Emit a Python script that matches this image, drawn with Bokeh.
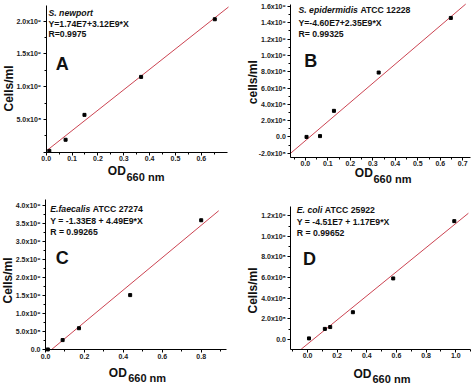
from bokeh.plotting import figure
from bokeh.models import (Range1d, SingleIntervalTicker, CustomJSTickFormatter, Label)
from bokeh.layouts import column, row
from bokeh.embed import file_html
from bokeh.resources import INLINE

# ---------------- data ----------------
panel_ids = ["A", "B", "C", "D"]
species = ["S. newport", "S. epidermidis", "E.faecalis", "E. coli"]
strains = ["", "ATCC 12228", "ATCC 27274", "ATCC 25922"]
equations = ["Y=1.74E7+3.12E9*X", "Y=-4.60E7+2.35E9*X",
             "Y = -1.33E8 + 4.49E9*X", "Y = -4.51E7 + 1.17E9*X"]
r_texts = ["R=0.9975", "R= 0.99325", "R = 0.99265", "R = 0.99652"]
y_titles = ["Cells/ml", "cells/ml", "Cells/ml", "Cells/ml"]
intercepts = [1.74e7, -4.60e7, -1.33e8, -4.51e7]
slopes = [3.12e9, 2.35e9, 4.49e9, 1.17e9]

A_od = [0.012, 0.075, 0.148, 0.367, 0.652]
A_cells = [2.0e7, 1.9e8, 5.7e8, 1.15e9, 2.03e9]
B_od = [0.005, 0.065, 0.127, 0.326, 0.647]
B_cells = [0.0, 1.0e7, 3.2e8, 7.9e8, 1.46e9]
C_od = [0.012, 0.088, 0.172, 0.435, 0.80]
C_cells = [1.0e7, 2.7e8, 6.0e8, 1.52e9, 3.6e9]
D_od = [0.01, 0.117, 0.153, 0.306, 0.578, 0.99]
D_cells = [1.0e7, 1.02e8, 1.2e8, 2.64e8, 5.92e8, 1.148e9]
od_values = [A_od, B_od, C_od, D_od]
cell_values = [A_cells, B_cells, C_cells, D_cells]

# axis extents (data)
x_ranges = [(0.0, 0.7), (-0.065, 0.735), (0.0, 0.93), (-0.112, 1.10)]
y_ranges = [(0.0, 2.24e9), (-2.49e8, 1.63e9), (0.0, 4.19e9), (-0.95e8, 1.29e9)]
x_tick_step = [0.1, 0.1, 0.2, 0.2]
y_tick_step = [5e8, 2e8, 5e8, 2e8]
fit_x_extent = [(0.0, 0.705), (-0.065, 0.735), (0.0, 0.89), (-0.112, 1.085)]

# ---------------- layout (panel pixels) ----------------
W, H = 237, 192
# axis box edges in panel pixels: left, right, top, bottom
frames = [(45.7, 226.7, 5.0, 151.7), (53.3, 233.1, 3.6, 156.7),
          (45.0, 226.0, 6.5, 157.3), (53.4, 233.1, 14.0, 156.7)]
text_x = [48.0, 61.0, 49.7, 59.3]
text_lines_y = [(12.3, 23.3, 33.6), (9.6, 22.0, 33.3), (16.0, 28.0, 39.3), (17.3, 29.0, 40.7)]
letter_pos = [(61.7, 63.3), (73.3, 60.0), (61.7, 65.0), (72.0, 66.7)]
ylabel_pos = [(8.7, 88.0), (15.0, 81.7), (7.3, 88.0), (15.0, 98.0)]
od_pos = [(107.3, 170.0), (117.3, 172.3), (108.3, 180.5), (116.0, 181.0)]
sub_pos = [(126.0, 176.0), (136.0, 178.0), (127.7, 185.5), (135.0, 186.0)]

FONT = "Liberation Sans"
LINE_COLOR = "#cc4452"
TXT_SIZE = 8.7
# Arial/Liberation bold(-italic) advance widths (em) for offsetting the strain text
EM = {"S": .667, ".": .278, " ": .278, "n": .611, "e": .556, "w": .778, "p": .611,
      "o": .611, "r": .389, "t": .333, "i": .278, "d": .611, "m": .889, "s": .556,
      "E": .667, "f": .333, "a": .556, "c": .556, "l": .278}

SUP_JS = """
const sup = {"0":"\u2070","1":"\u00b9","2":"\u00b2","3":"\u00b3","4":"\u2074",
             "5":"\u2075","6":"\u2076","7":"\u2077","8":"\u2078","9":"\u2079","-":"\u207b"};
if (Math.abs(tick) < 1) { return skip ? "" : "0.0"; }
const e = Math.floor(Math.log10(Math.abs(tick)) + 1e-9);
const m = tick / Math.pow(10, e);
return m.toFixed(1) + "x10" + String(e).split("").map(c => sup[c]).join("");
"""


def make_panel(i):
    L, R, T, B = frames[i]
    x0, x1 = x_ranges[i]
    y0, y1 = y_ranges[i]
    xr, yr = x1 - x0, y1 - y0
    # whole canvas is the plot frame; the axis box sits inside it
    fx0 = x0 - xr * L / (R - L)
    fx1 = x1 + xr * (W - R) / (R - L)
    fy0 = y0 - yr * (H - B) / (B - T)
    fy1 = y1 + yr * T / (B - T)
    p = figure(width=W, height=H, output_backend="svg", toolbar_location=None,
               x_range=Range1d(fx0, fx1), y_range=Range1d(fy0, fy1),
               min_border=0)
    p.outline_line_color = None
    p.grid.visible = False
    p.background_fill_color = "white"
    p.border_fill_color = "white"

    p.xaxis.fixed_location = y0
    p.yaxis.fixed_location = x0
    p.xaxis.bounds = (x0, x1)
    p.yaxis.bounds = (y0, y1)
    p.xaxis.ticker = SingleIntervalTicker(interval=x_tick_step[i], num_minor_ticks=2)
    p.yaxis.ticker = SingleIntervalTicker(interval=y_tick_step[i], num_minor_ticks=2)
    p.xaxis.formatter = CustomJSTickFormatter(
        code="return (Math.abs(tick) < 1e-9 ? 0 : tick).toFixed(1);")
    p.yaxis.formatter = CustomJSTickFormatter(args=dict(skip=(i == 0)), code=SUP_JS)
    for ax in (p.xaxis, p.yaxis):
        ax.axis_line_color = "black"
        ax.axis_line_width = 1
        ax.major_tick_line_color = "black"
        ax.minor_tick_line_color = "black"
        ax.major_tick_out = 3
        ax.major_tick_in = 0
        ax.minor_tick_out = 2
        ax.minor_tick_in = 0
        ax.major_label_text_font = FONT
        ax.major_label_text_font_style = "bold"
        ax.major_label_text_font_size = "7px"
        ax.major_label_text_color = "#222222"
        ax.major_label_standoff = 2
    p.xaxis.major_label_standoff = 1

    # fitted line, kept inside the axis box
    a, b = intercepts[i], slopes[i]
    lx0, lx1 = fit_x_extent[i]
    lx0 = max(lx0, (y0 - a) / b)
    lx1 = min(lx1, (y1 - a) / b)
    p.line([lx0, lx1], [a + b * lx0, a + b * lx1], line_color=LINE_COLOR, line_width=1)
    # data points
    p.scatter(od_values[i], cell_values[i], marker="square", size=3,
              fill_color="black", line_color="black")

    def lab(x_px, y_px, text, size, style="bold", align="left", angle=0, dx=0.0):
        p.add_layout(Label(x=x_px + dx, y=H - y_px,
                           x_units="screen", y_units="screen", text=text,
                           text_font=FONT, text_font_size=f"{size}px",
                           text_font_style=style, text_align=align,
                           text_baseline="middle", angle=angle,
                           angle_units="deg", text_color="#111111"))

    tx = text_x[i]
    ly = text_lines_y[i]
    lab(tx, ly[0], species[i], TXT_SIZE, style="bold italic")
    if strains[i]:
        off = sum(EM.get(c, .556) for c in species[i] + " ") * TXT_SIZE
        lab(tx, ly[0], strains[i], TXT_SIZE, dx=off)
    lab(tx, ly[1], equations[i], TXT_SIZE)
    lab(tx, ly[2], r_texts[i], TXT_SIZE)
    lab(letter_pos[i][0], letter_pos[i][1], panel_ids[i], 18, align="center")
    lab(ylabel_pos[i][0], ylabel_pos[i][1], y_titles[i], 12, align="center", angle=90)
    lab(od_pos[i][0], od_pos[i][1], "OD", 12)
    lab(sub_pos[i][0], sub_pos[i][1], "660 nm", 11)
    return p


panels = [make_panel(i) for i in range(4)]
layout = column(row(panels[0], panels[1]), row(panels[2], panels[3]))

with open("out.html", "w") as f:
    f.write(file_html(layout, INLINE))
